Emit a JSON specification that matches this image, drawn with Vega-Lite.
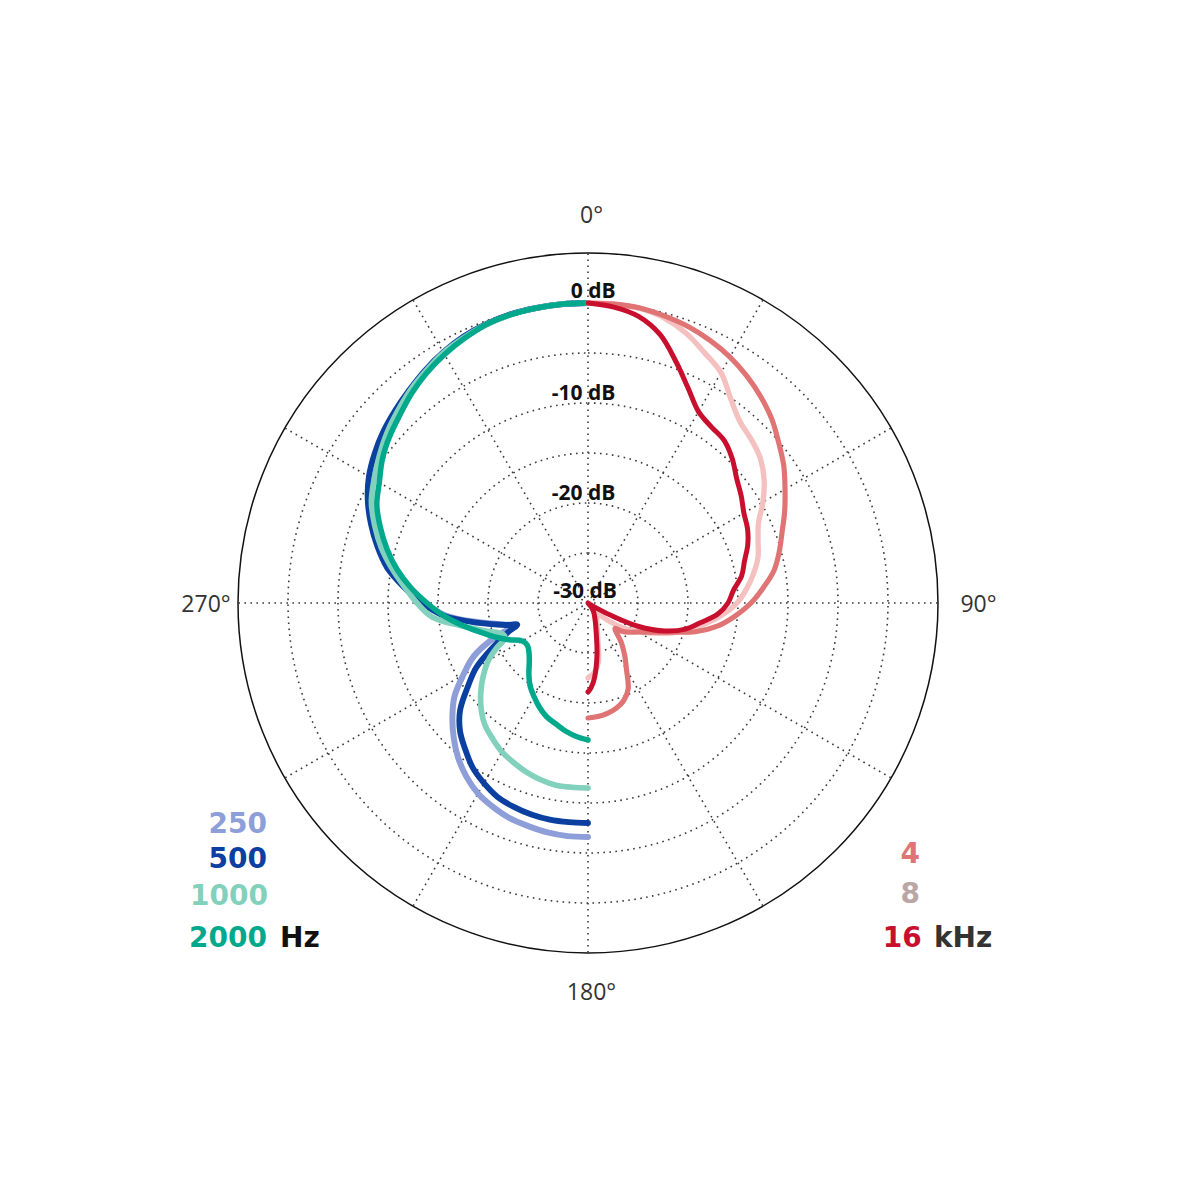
{
  "$schema": "https://vega.github.io/schema/vega-lite/v6.json",
  "width": 700,
  "height": 700,
  "autosize": {"type": "none"},
  "padding": {"left": 238, "top": 253, "right": 262, "bottom": 247},
  "background": "white",
  "config": {"view": {"stroke": null}},
  "datasets": {
    "rings": [{"db": -25}, {"db": -20}, {"db": -15}, {"db": -10}, {"db": -5}, {"db": 0}],
    "outer": [{"db": 5}],
    "spokes": [{"a": 0}, {"a": 30}, {"a": 60}, {"a": 90}, {"a": 120}, {"a": 150}, {"a": 180}, {"a": 210}, {"a": 240}, {"a": 270}, {"a": 300}, {"a": 330}],
    "curves": [
      {"f":"250","a":180,"db":-6.6},{"f":"250","a":185,"db":-6.6},{"f":"250","a":190,"db":-6.7},{"f":"250","a":195,"db":-6.9},{"f":"250","a":200,"db":-7.1},{"f":"250","a":205,"db":-7.5},{"f":"250","a":210,"db":-8.0},{"f":"250","a":215,"db":-8.8},{"f":"250","a":220,"db":-9.8},{"f":"250","a":225,"db":-11.0},{"f":"250","a":230,"db":-12.3},{"f":"250","a":235,"db":-13.7},{"f":"250","a":240,"db":-15.6},{"f":"250","a":245,"db":-17.4},{"f":"250","a":250,"db":-20.2},{"f":"250","a":253,"db":-22.4},{"f":"250","a":255,"db":-21.6},{"f":"250","a":260,"db":-18.9},{"f":"250","a":265,"db":-15.7},{"f":"250","a":270,"db":-13.6},{"f":"250","a":275,"db":-11.7},{"f":"250","a":280,"db":-9.8},{"f":"250","a":285,"db":-8.4},{"f":"250","a":290,"db":-7.1},{"f":"250","a":295,"db":-5.9},{"f":"250","a":300,"db":-4.85},{"f":"250","a":305,"db":-4.1},{"f":"250","a":310,"db":-3.45},{"f":"250","a":315,"db":-2.9},{"f":"250","a":320,"db":-2.35},{"f":"250","a":325,"db":-1.75},{"f":"250","a":330,"db":-1.15},{"f":"250","a":335,"db":-0.7},{"f":"250","a":340,"db":-0.35},{"f":"250","a":345,"db":-0.12},{"f":"250","a":350,"db":-0.05},{"f":"250","a":355,"db":0},{"f":"250","a":360,"db":0},
      {"f":"500","a":180,"db":-8.0},{"f":"500","a":185,"db":-8.0},{"f":"500","a":190,"db":-8.0},{"f":"500","a":195,"db":-8.1},{"f":"500","a":200,"db":-8.3},{"f":"500","a":205,"db":-8.6},{"f":"500","a":210,"db":-9.2},{"f":"500","a":215,"db":-9.9},{"f":"500","a":220,"db":-10.9},{"f":"500","a":225,"db":-11.9},{"f":"500","a":230,"db":-13.3},{"f":"500","a":235,"db":-15.3},{"f":"500","a":240,"db":-17.1},{"f":"500","a":245,"db":-19.5},{"f":"500","a":250,"db":-21.5},{"f":"500","a":253,"db":-22.6},{"f":"500","a":255,"db":-21.5},{"f":"500","a":260,"db":-18.7},{"f":"500","a":265,"db":-15.5},{"f":"500","a":270,"db":-13.4},{"f":"500","a":275,"db":-11.5},{"f":"500","a":280,"db":-9.6},{"f":"500","a":285,"db":-8.2},{"f":"500","a":290,"db":-6.9},{"f":"500","a":295,"db":-5.7},{"f":"500","a":300,"db":-4.7},{"f":"500","a":305,"db":-3.95},{"f":"500","a":310,"db":-3.3},{"f":"500","a":315,"db":-2.75},{"f":"500","a":320,"db":-2.2},{"f":"500","a":325,"db":-1.6},{"f":"500","a":330,"db":-1.05},{"f":"500","a":335,"db":-0.6},{"f":"500","a":340,"db":-0.3},{"f":"500","a":345,"db":-0.1},{"f":"500","a":350,"db":-0.05},{"f":"500","a":355,"db":0},{"f":"500","a":360,"db":0},
      {"f":"1000","a":180,"db":-11.5},{"f":"1000","a":185,"db":-11.5},{"f":"1000","a":190,"db":-11.5},{"f":"1000","a":195,"db":-11.7},{"f":"1000","a":200,"db":-12.0},{"f":"1000","a":205,"db":-12.4},{"f":"1000","a":210,"db":-12.8},{"f":"1000","a":215,"db":-13.4},{"f":"1000","a":220,"db":-14.0},{"f":"1000","a":225,"db":-14.9},{"f":"1000","a":230,"db":-16.0},{"f":"1000","a":235,"db":-17.2},{"f":"1000","a":240,"db":-18.5},{"f":"1000","a":244,"db":-19.9},{"f":"1000","a":247,"db":-21.0},{"f":"1000","a":250,"db":-20.9},{"f":"1000","a":255,"db":-19.3},{"f":"1000","a":260,"db":-17.0},{"f":"1000","a":265,"db":-14.3},{"f":"1000","a":270,"db":-12.9},{"f":"1000","a":275,"db":-11.6},{"f":"1000","a":280,"db":-10.1},{"f":"1000","a":285,"db":-8.6},{"f":"1000","a":290,"db":-7.3},{"f":"1000","a":295,"db":-6.1},{"f":"1000","a":300,"db":-5.3},{"f":"1000","a":305,"db":-4.5},{"f":"1000","a":310,"db":-3.7},{"f":"1000","a":315,"db":-3.0},{"f":"1000","a":320,"db":-2.3},{"f":"1000","a":325,"db":-1.7},{"f":"1000","a":330,"db":-1.1},{"f":"1000","a":335,"db":-0.7},{"f":"1000","a":340,"db":-0.35},{"f":"1000","a":345,"db":-0.15},{"f":"1000","a":350,"db":-0.05},{"f":"1000","a":355,"db":0},{"f":"1000","a":360,"db":0},
      {"f":"2000","a":180,"db":-16.3},{"f":"2000","a":185,"db":-16.6},{"f":"2000","a":190,"db":-17.0},{"f":"2000","a":195,"db":-17.5},{"f":"2000","a":200,"db":-17.9},{"f":"2000","a":205,"db":-18.5},{"f":"2000","a":210,"db":-19.2},{"f":"2000","a":215,"db":-19.9},{"f":"2000","a":220,"db":-20.8},{"f":"2000","a":225,"db":-21.7},{"f":"2000","a":230,"db":-22.3},{"f":"2000","a":235,"db":-22.6},{"f":"2000","a":240,"db":-22.4},{"f":"2000","a":245,"db":-21.3},{"f":"2000","a":250,"db":-20.1},{"f":"2000","a":255,"db":-18.8},{"f":"2000","a":260,"db":-17.2},{"f":"2000","a":265,"db":-15.5},{"f":"2000","a":270,"db":-13.9},{"f":"2000","a":275,"db":-12.2},{"f":"2000","a":280,"db":-10.6},{"f":"2000","a":285,"db":-9.2},{"f":"2000","a":290,"db":-7.9},{"f":"2000","a":295,"db":-6.7},{"f":"2000","a":300,"db":-5.9},{"f":"2000","a":305,"db":-4.9},{"f":"2000","a":310,"db":-4.1},{"f":"2000","a":315,"db":-3.4},{"f":"2000","a":320,"db":-2.6},{"f":"2000","a":325,"db":-1.9},{"f":"2000","a":330,"db":-1.3},{"f":"2000","a":335,"db":-0.8},{"f":"2000","a":340,"db":-0.35},{"f":"2000","a":345,"db":-0.15},{"f":"2000","a":350,"db":-0.05},{"f":"2000","a":355,"db":0},{"f":"2000","a":360,"db":0},
      {"f":"8k","a":0,"db":0},{"f":"8k","a":5,"db":0},{"f":"8k","a":10,"db":-0.1},{"f":"8k","a":15,"db":-0.5},{"f":"8k","a":20,"db":-1.3},{"f":"8k","a":25,"db":-2.4},{"f":"8k","a":30,"db":-3.4},{"f":"8k","a":35,"db":-5.1},{"f":"8k","a":40,"db":-6.35},{"f":"8k","a":45,"db":-6.9},{"f":"8k","a":50,"db":-7.5},{"f":"8k","a":55,"db":-8.5},{"f":"8k","a":60,"db":-9.8},{"f":"8k","a":65,"db":-11.2},{"f":"8k","a":70,"db":-11.9},{"f":"8k","a":75,"db":-12.4},{"f":"8k","a":80,"db":-13.2},{"f":"8k","a":85,"db":-14.1},{"f":"8k","a":90,"db":-15.1},{"f":"8k","a":95,"db":-16.5},{"f":"8k","a":100,"db":-18.1},{"f":"8k","a":105,"db":-19.8},{"f":"8k","a":110,"db":-21.2},{"f":"8k","a":115,"db":-22.9},{"f":"8k","a":120,"db":-24.3},{"f":"8k","a":125,"db":-25.6},{"f":"8k","a":130,"db":-27.0},{"f":"8k","a":135,"db":-28.3},{"f":"8k","a":140,"db":-28.8},{"f":"8k","a":145,"db":-28.5},{"f":"8k","a":150,"db":-28.2},{"f":"8k","a":155,"db":-27.9},{"f":"8k","a":160,"db":-27.3},{"f":"8k","a":165,"db":-26.2},{"f":"8k","a":170,"db":-24.0},{"f":"8k","a":175,"db":-23.0},{"f":"8k","a":180,"db":-22.5},
      {"f":"4k","a":0,"db":0},{"f":"4k","a":5,"db":0},{"f":"4k","a":10,"db":-0.05},{"f":"4k","a":15,"db":-0.3},{"f":"4k","a":20,"db":-0.6},{"f":"4k","a":25,"db":-1.05},{"f":"4k","a":30,"db":-1.6},{"f":"4k","a":35,"db":-2.3},{"f":"4k","a":40,"db":-3.1},{"f":"4k","a":45,"db":-4.0},{"f":"4k","a":50,"db":-5.1},{"f":"4k","a":55,"db":-6.1},{"f":"4k","a":60,"db":-7.25},{"f":"4k","a":65,"db":-8.3},{"f":"4k","a":70,"db":-9.35},{"f":"4k","a":75,"db":-10.2},{"f":"4k","a":80,"db":-11.1},{"f":"4k","a":85,"db":-12.4},{"f":"4k","a":90,"db":-13.7},{"f":"4k","a":95,"db":-15.2},{"f":"4k","a":100,"db":-16.8},{"f":"4k","a":105,"db":-18.9},{"f":"4k","a":110,"db":-21.5},{"f":"4k","a":115,"db":-23.1},{"f":"4k","a":120,"db":-24.2},{"f":"4k","a":125,"db":-24.9},{"f":"4k","a":130,"db":-25.6},{"f":"4k","a":133,"db":-26.3},{"f":"4k","a":140,"db":-24.8},{"f":"4k","a":145,"db":-23.6},{"f":"4k","a":150,"db":-22.3},{"f":"4k","a":155,"db":-20.5},{"f":"4k","a":160,"db":-19.6},{"f":"4k","a":165,"db":-19.1},{"f":"4k","a":170,"db":-18.8},{"f":"4k","a":175,"db":-18.6},{"f":"4k","a":180,"db":-18.5},
      {"f":"16k","a":0,"db":0},{"f":"16k","a":5,"db":-0.3},{"f":"16k","a":10,"db":-0.9},{"f":"16k","a":15,"db":-2.2},{"f":"16k","a":20,"db":-4.3},{"f":"16k","a":25,"db":-6.3},{"f":"16k","a":30,"db":-7.9},{"f":"16k","a":35,"db":-8.5},{"f":"16k","a":40,"db":-8.8},{"f":"16k","a":45,"db":-9.6},{"f":"16k","a":50,"db":-10.6},{"f":"16k","a":55,"db":-11.3},{"f":"16k","a":60,"db":-12.0},{"f":"16k","a":65,"db":-12.4},{"f":"16k","a":70,"db":-13.0},{"f":"16k","a":75,"db":-13.8},{"f":"16k","a":80,"db":-14.4},{"f":"16k","a":85,"db":-15.4},{"f":"16k","a":90,"db":-16.0},{"f":"16k","a":95,"db":-17.0},{"f":"16k","a":100,"db":-18.6},{"f":"16k","a":105,"db":-19.9},{"f":"16k","a":110,"db":-21.8},{"f":"16k","a":115,"db":-24.5},{"f":"16k","a":118,"db":-27.0},{"f":"16k","a":121,"db":-29.0},{"f":"16k","a":125,"db":-30.0},{"f":"16k","a":135,"db":-30.0},{"f":"16k","a":140,"db":-29.6},{"f":"16k","a":145,"db":-29.2},{"f":"16k","a":150,"db":-28.8},{"f":"16k","a":155,"db":-28.4},{"f":"16k","a":160,"db":-27.8},{"f":"16k","a":165,"db":-26.8},{"f":"16k","a":170,"db":-24.8},{"f":"16k","a":175,"db":-22.5},{"f":"16k","a":178,"db":-21.5},{"f":"16k","a":180,"db":-21.1}
    ],
    "deg": [{"t":"0°","x":0.35,"y":38.0},{"t":"90°","x":39.05,"y":-0.9},{"t":"180°","x":0.35,"y":-39.7},{"t":"270°","x":-38.2,"y":-0.9}],
    "dbl": [{"t":"0 dB","x":0.53,"y":30.47},{"t":"-10 dB","x":-0.45,"y":20.3},{"t":"-20 dB","x":-0.45,"y":10.3},{"t":"-30 dB","x":-0.3,"y":0.47}],
    "leg": [{"t":"250","f":"250","x":-32.1,"y":-22.97},{"t":"500","f":"500","x":-32.1,"y":-26.53},{"t":"1000","f":"1000","x":-32.0,"y":-30.2},{"t":"2000","f":"2000","x":-32.1,"y":-34.37},{"t":"4","f":"4k","x":33.2,"y":-26.03},{"t":"8","f":"8kL","x":33.2,"y":-30.03},{"t":"16","f":"16k","x":33.37,"y":-34.37}],
    "hz": [{"t":"Hz","x":-30.8,"y":-34.37}],
    "khz": [{"t":"kHz","x":34.6,"y":-34.37}]
  },
  "layer": [
    {
      "data": {"name": "rings"},
      "mark": {"type": "arc", "theta": 0, "theta2": 6.2832, "filled": false, "stroke": "#3a3a3a", "strokeWidth": 1.6, "strokeDash": [1.6, 4.4]},
      "encoding": {
        "radius": {"field": "db", "type": "quantitative", "stack": null, "scale": {"type": "linear", "domain": [-30, 5], "range": [0, 350], "zero": false, "nice": false}, "legend": null},
        "radius2": {"value": 0}
      }
    },
    {
      "data": {"name": "outer"},
      "mark": {"type": "arc", "theta": 0, "theta2": 6.2832, "filled": false, "stroke": "#111111", "strokeWidth": 1.5},
      "encoding": {
        "radius": {"field": "db", "type": "quantitative", "stack": null, "scale": {"type": "linear", "domain": [-30, 5], "range": [0, 350], "zero": false, "nice": false}, "legend": null},
        "radius2": {"value": 0}
      }
    },
    {
      "data": {"name": "spokes"},
      "transform": [
        {"calculate": "35*sin(datum.a*PI/180)", "as": "sx"},
        {"calculate": "35*cos(datum.a*PI/180)", "as": "sy"},
        {"calculate": "0", "as": "zz"}
      ],
      "mark": {"type": "rule", "stroke": "#3a3a3a", "strokeWidth": 1.6, "strokeDash": [1.6, 4.4]},
      "encoding": {
        "x": {"field": "zz", "type": "quantitative", "scale": {"domain": [-35, 35], "nice": false, "zero": false}, "axis": null},
        "y": {"field": "zz", "type": "quantitative", "scale": {"domain": [-35, 35], "nice": false, "zero": false}, "axis": null},
        "x2": {"field": "sx"},
        "y2": {"field": "sy"}
      }
    },
    {
      "data": {"name": "curves"},
      "transform": [
        {"calculate": "(datum.db+30)*sin(datum.a*PI/180)", "as": "px"},
        {"calculate": "(datum.db+30)*cos(datum.a*PI/180)", "as": "py"}
      ],
      "mark": {"type": "line", "interpolate": "catmull-rom", "strokeCap": "round", "strokeJoin": "round"},
      "encoding": {
        "x": {"field": "px", "type": "quantitative", "scale": {"domain": [-35, 35], "nice": false, "zero": false}, "axis": null},
        "y": {"field": "py", "type": "quantitative", "scale": {"domain": [-35, 35], "nice": false, "zero": false}, "axis": null},
        "order": {"field": "a", "type": "quantitative"},
        "color": {"field": "f", "type": "nominal", "scale": {"domain": ["250", "500", "1000", "2000", "8k", "4k", "16k", "8kL"], "range": ["#8e9ed8", "#0c40a0", "#82d1bd", "#00a88c", "#f5c0c0", "#e07474", "#c8102e", "#bba6a6"]}, "legend": null},
        "strokeWidth": {"field": "f", "type": "ordinal", "scale": {"domain": ["250", "500", "1000", "2000", "8k", "4k", "16k"], "range": [6, 5, 5, 4.5, 5, 4.5, 4.5]}, "legend": null}
      }
    },
    {
      "data": {"name": "deg"},
      "mark": {"type": "text", "font": "Open Sans", "fontSize": 23, "color": "#333333", "align": "center", "baseline": "alphabetic"},
      "encoding": {
        "x": {"field": "x", "type": "quantitative", "axis": null},
        "y": {"field": "y", "type": "quantitative", "axis": null},
        "text": {"field": "t"}
      }
    },
    {
      "data": {"name": "dbl"},
      "mark": {"type": "text", "font": "Open Sans", "fontSize": 21, "fontWeight": "bold", "color": "#111111", "align": "center", "baseline": "alphabetic"},
      "encoding": {
        "x": {"field": "x", "type": "quantitative", "axis": null},
        "y": {"field": "y", "type": "quantitative", "axis": null},
        "text": {"field": "t"}
      }
    },
    {
      "data": {"name": "leg"},
      "mark": {"type": "text", "font": "DejaVu Sans", "fontSize": 28, "fontWeight": "bold", "align": "right", "baseline": "alphabetic"},
      "encoding": {
        "x": {"field": "x", "type": "quantitative", "axis": null},
        "y": {"field": "y", "type": "quantitative", "axis": null},
        "text": {"field": "t"},
        "color": {"field": "f", "type": "nominal", "legend": null}
      }
    },
    {
      "data": {"name": "hz"},
      "mark": {"type": "text", "font": "DejaVu Sans", "fontSize": 28, "fontWeight": "bold", "color": "#111111", "align": "left", "baseline": "alphabetic"},
      "encoding": {
        "x": {"field": "x", "type": "quantitative", "axis": null},
        "y": {"field": "y", "type": "quantitative", "axis": null},
        "text": {"field": "t"}
      }
    },
    {
      "data": {"name": "khz"},
      "mark": {"type": "text", "font": "DejaVu Sans", "fontSize": 28, "fontWeight": "bold", "color": "#333333", "align": "left", "baseline": "alphabetic"},
      "encoding": {
        "x": {"field": "x", "type": "quantitative", "axis": null},
        "y": {"field": "y", "type": "quantitative", "axis": null},
        "text": {"field": "t"}
      }
    }
  ]
}
